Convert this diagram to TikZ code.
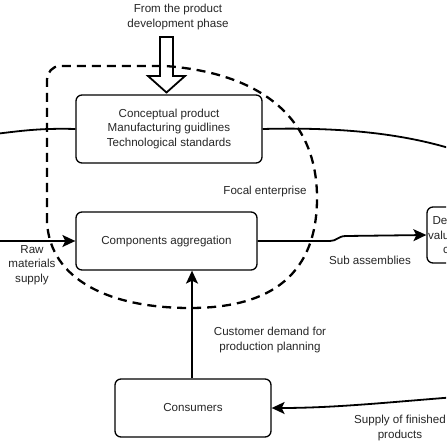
\documentclass[tikz,border=0pt]{standalone}
\usepackage{fontspec}
\setmainfont{Liberation Sans}
\usetikzlibrary{arrows.meta,calc}
\begin{document}
\begin{tikzpicture}[x=1pt,y=-1pt,
  every node/.style={font=\fontsize{11.6}{14.3}\selectfont, text=black!85},
  box/.style={draw, line width=1.3pt, rounded corners=6pt, align=center, inner sep=1pt},
  lbl/.style={align=center, inner sep=0pt},
  conn/.style={line width=1.8pt},
  arr/.style={conn, -{Stealth[length=13pt,width=12pt,inset=3pt]}},
  focal/.style={line width=2.3pt, dash pattern=on 9pt off 6pt}]
\useasboundingbox (0,0) rectangle (446,446);
\clip (0,0) rectangle (446,446);
% boxes
\node[box, minimum width=186pt, minimum height=68pt] (b1) at (169,129)
  {Conceptual product\\Manufacturing guidlines\\Technological standards};
\node[box, minimum width=181pt, minimum height=58pt] (b2) at (166.5,241) {Components aggregation};
\node[box, minimum width=156pt, minimum height=58pt] (b4) at (193,408) {Consumers};
\node[box, minimum width=66pt, minimum height=56pt] (b3) at (460,235) {Delivery of\\value-added\\chains};
% labels
\node[lbl] (src) at (178,17) {From the product\\development phase};
\node[lbl] (focal) at (265,192) {Focal enterprise};
\node[lbl] (raw) at (32,265) {Raw\\materials\\supply};
\node[lbl] (sub) at (370,260) {Sub assemblies};
\node[lbl] (dem) at (270,340) {Customer demand for\\production planning};
\node[lbl] (fin) at (400,428) {Supply of finished\\products};
% free ends
\coordinate (L1) at (-5,134);
\coordinate (R1) at (470,155);
\coordinate (L2) at (-5,241);
\coordinate (R4) at (470,396);
% hollow arrow
\draw[line width=1.8pt, line join=miter] (160,37) -- (173,37) -- (173,76) -- (185,76)
  -- (166.5,92.5) -- (148,76) -- (160,76) -- cycle;
% focal enterprise boundary
\draw[focal] (47,222) -- (47,80) to[out=90,in=180] (60,66) -- (165,66)
  .. controls (250,72) and (318,110) .. (317,200)
  .. controls (316,290) and (250,308) .. (190,308)
  .. controls (110,308) and (50,280) .. (47,222);
% connectors
\draw[conn] (b1.west) .. controls (40,128) and (20,131) .. (L1);
\draw[conn] (b1.east) .. controls (340,127) and (410,133) .. (R1);
\draw[arr] (L2) -- (b2.west);
\draw[arr] (b2.east) -- (330,241) .. controls (337,241) and (338,236) .. (346,236) -- (b3.west);
\draw[arr] (b4.north -| 192,0) -- (b2.south -| 192,0);
\draw[arr] (R4) .. controls (400,401) and (340,408) .. (b4.east);
\end{tikzpicture}
\end{document}
